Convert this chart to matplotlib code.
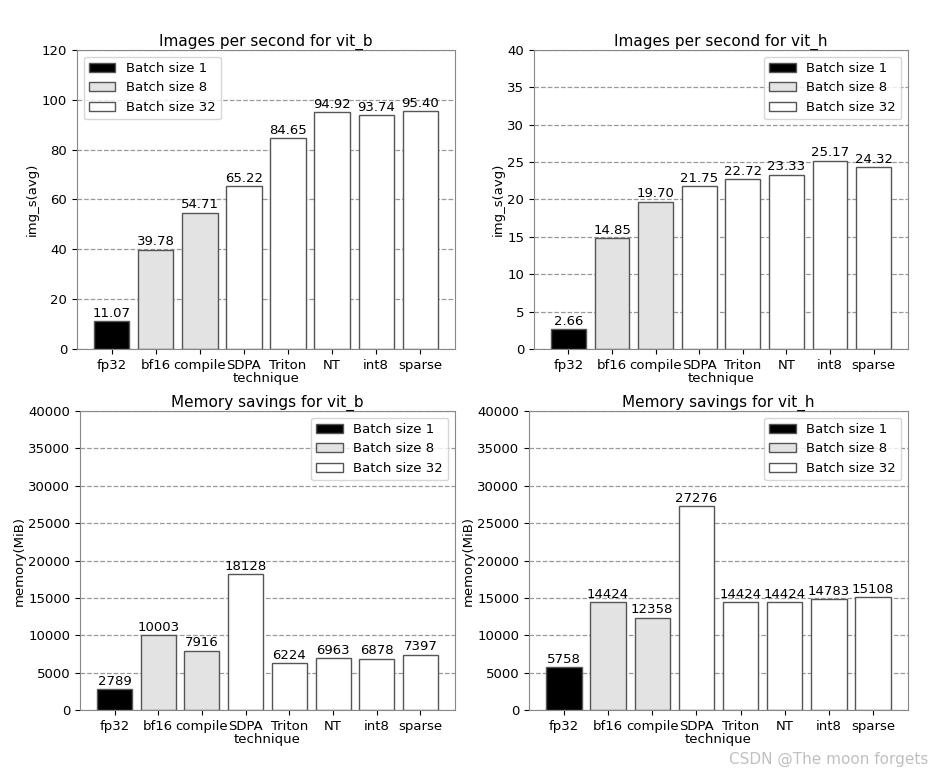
import matplotlib
matplotlib.use('Agg')
import matplotlib.pyplot as plt
from matplotlib.patches import Patch

techniques = ['fp32', 'bf16', 'compile', 'SDPA', 'Triton', 'NT', 'int8', 'sparse']
batch_sizes = [1, 8, 8, 32, 32, 32, 32, 32]

vit_b_img_s = [11.07, 39.78, 54.71, 65.22, 84.65, 94.92, 93.74, 95.40]
vit_h_img_s = [2.66, 14.85, 19.70, 21.75, 22.72, 23.33, 25.17, 24.32]
vit_b_mem = [2789, 10003, 7916, 18128, 6224, 6963, 6878, 7397]
vit_h_mem = [5758, 14424, 12358, 27276, 14424, 14424, 14783, 15108]

colors_by_bs = {1: 'black', 8: '#e3e3e3', 32: 'white'}
bar_colors = [colors_by_bs[b] for b in batch_sizes]
edge = '#555555'

plt.rcParams['font.size'] = 9.5

fig = plt.figure(figsize=(9.32, 7.71), dpi=100)

# axes boxes in pixels: left, right, top, bottom
boxes = [(77, 455, 50, 349), (534, 908, 50, 349),
         (80, 455, 411, 710), (529, 908, 411, 710)]
W, H = 932, 771


def panel(box, values, title, ylabel, ylim, yticks, fmt, legend_loc):
    l, r, t, b = box
    ax = fig.add_axes([l / W, 1 - b / H, (r - l) / W, (b - t) / H])
    ax.set_axisbelow(True)
    ax.yaxis.grid(True, linestyle='--', color='#999999', linewidth=0.9)
    bars = ax.bar(range(len(techniques)), values, width=0.8,
                  color=bar_colors, edgecolor=edge, linewidth=1)
    ax.bar_label(bars, labels=[fmt % v for v in values], padding=1, fontsize=9.5)
    ax.set_xticks(range(len(techniques)))
    ax.set_xticklabels(techniques)
    ax.set_ylim(*ylim)
    ax.set_yticks(yticks)
    ax.set_title(title, fontsize=11, pad=3)
    ax.set_ylabel(ylabel, labelpad=2)
    ax.set_xlabel('technique', labelpad=0)
    for s in ax.spines.values():
        s.set_color('#888888')
    handles = [Patch(facecolor=colors_by_bs[k], edgecolor=edge) for k in (1, 8, 32)]
    ax.legend(handles, ['Batch size 1', 'Batch size 8', 'Batch size 32'],
              loc=legend_loc, fontsize=9.5)
    return ax


panel(boxes[0], vit_b_img_s, 'Images per second for vit_b', 'img_s(avg)',
      (0, 120), range(0, 121, 20), '%.2f', 'upper left')
panel(boxes[1], vit_h_img_s, 'Images per second for vit_h', 'img_s(avg)',
      (0, 40), range(0, 41, 5), '%.2f', 'upper right')
panel(boxes[2], vit_b_mem, 'Memory savings for vit_b', 'memory(MiB)',
      (0, 40000), range(0, 40001, 5000), '%d', 'upper right')
panel(boxes[3], vit_h_mem, 'Memory savings for vit_h', 'memory(MiB)',
      (0, 40000), range(0, 40001, 5000), '%d', 'upper right')

fig.text(0.996, 0.005, 'CSDN @The moon forgets', ha='right', va='bottom',
         color='#c0c0c0', fontsize=11)

fig.savefig('out.png', dpi=100)
